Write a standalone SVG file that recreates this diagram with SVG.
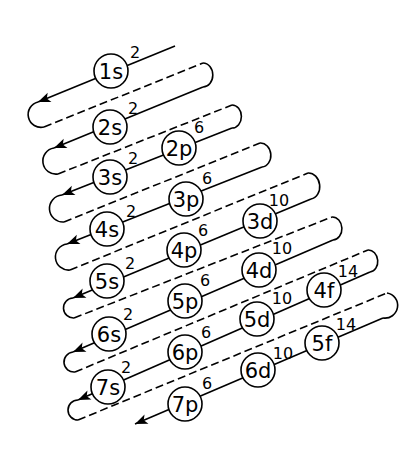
<svg xmlns="http://www.w3.org/2000/svg" width="400" height="461" viewBox="0 0 400 461">
<style>
.ln{fill:none;stroke:#000;stroke-width:1.6}
.sol{marker-end:url(#arr)}
.dash{stroke-dasharray:8,4}
.orb{fill:#fff;stroke:#000;stroke-width:1.6}
.lbl{font-family:"DejaVu Sans",sans-serif;font-size:21px;text-anchor:middle;fill:#000}
.sup{font-family:"DejaVu Sans",sans-serif;font-size:16px;text-anchor:middle;fill:#000}
</style>
<defs>
<marker id="arr" markerUnits="userSpaceOnUse" markerWidth="16" markerHeight="12" viewBox="-14 -6 16 12" refX="0" refY="0" orient="auto">
<path d="M0,0 L-12.5,-5 L-9.5,0 L-12.5,5 Z" fill="#000"/>
</marker>
</defs>
<rect width="400" height="461" fill="#fff"/>
<g id="connectors">
<path class="ln sol" d="M175,46 L38,102"/>
<path class="ln sol" d="M203,87 L54,148"/>
<path class="ln sol" d="M232,128 L62,195"/>
<path class="ln sol" d="M262,167 L67,244"/>
<path class="ln sol" d="M311,199 L73,298"/>
<path class="ln sol" d="M333,240 L73,352"/>
<path class="ln sol" d="M370,272 L78,400"/>
<path class="ln sol" d="M383,318 L135,424"/>
<path class="ln" d="M38,102 A1,1 0 0 0 44,127"/>
<path class="ln" d="M54,148 A1,1 0 0 0 58,174"/>
<path class="ln" d="M62,195 A1,1 0 0 0 64,222"/>
<path class="ln" d="M67,244 A1,1 0 0 0 70,270"/>
<path class="ln" d="M73,298 A1,1 0 0 0 74,318"/>
<path class="ln" d="M73,352 A1,1 0 0 0 75,372"/>
<path class="ln" d="M78,400 A1,1 0 0 0 78,420"/>
<path class="ln dash" d="M44,127 L203,63"/>
<path class="ln dash" d="M58,174 L232,105"/>
<path class="ln dash" d="M64,222 L260,143"/>
<path class="ln dash" d="M70,270 L308,173"/>
<path class="ln dash" d="M74,318 L332,217"/>
<path class="ln dash" d="M75,372 L368,250"/>
<path class="ln dash" d="M78,420 L387,293"/>
<path class="ln" d="M203,63 A9.8,12 0 0 1 203,87"/>
<path class="ln" d="M232,105 A9.4,11.5 0 0 1 232,128"/>
<path class="ln" d="M260,143 A9.8,12 -4.8 0 1 262,167"/>
<path class="ln" d="M308,173 A10.7,13.1 -6.6 0 1 311,199"/>
<path class="ln" d="M332,217 A9.4,11.5 -2.5 0 1 333,240"/>
<path class="ln" d="M368,250 A9,11.05 -5.2 0 1 370,272"/>
<path class="ln" d="M387,293 A1,1 0 0 1 383,318"/>
</g>
<g id="n1s"><circle class="orb" cx="111" cy="71" r="17"/><text class="lbl" x="111" y="78.5">1s</text><text class="sup" x="135" y="57.8">2</text></g>
<g id="n2s"><circle class="orb" cx="110" cy="127" r="17"/><text class="lbl" x="110" y="134.5">2s</text><text class="sup" x="133" y="113.8">2</text></g>
<g id="n2p"><circle class="orb" cx="179" cy="148" r="17"/><text class="lbl" x="179" y="155.5">2p</text><text class="sup" x="199" y="132.8">6</text></g>
<g id="n3s"><circle class="orb" cx="110" cy="177" r="17"/><text class="lbl" x="110" y="184.5">3s</text><text class="sup" x="133" y="163.8">2</text></g>
<g id="n3p"><circle class="orb" cx="186" cy="199" r="17"/><text class="lbl" x="186" y="206.5">3p</text><text class="sup" x="207" y="183.8">6</text></g>
<g id="n3d"><circle class="orb" cx="260" cy="221" r="17"/><text class="lbl" x="260" y="228.5">3d</text><text class="sup" x="279" y="205.8">10</text></g>
<g id="n4s"><circle class="orb" cx="107" cy="229" r="17"/><text class="lbl" x="107" y="236.5">4s</text><text class="sup" x="131" y="216.8">2</text></g>
<g id="n4p"><circle class="orb" cx="184" cy="250" r="17"/><text class="lbl" x="184" y="257.5">4p</text><text class="sup" x="203" y="235.8">6</text></g>
<g id="n4d"><circle class="orb" cx="259" cy="270" r="17"/><text class="lbl" x="259" y="277.5">4d</text><text class="sup" x="282" y="253.8">10</text></g>
<g id="n4f"><circle class="orb" cx="324" cy="290" r="17"/><text class="lbl" x="324" y="297.5">4f</text><text class="sup" x="348" y="276.8">14</text></g>
<g id="n5s"><circle class="orb" cx="107" cy="281" r="17"/><text class="lbl" x="107" y="288.5">5s</text><text class="sup" x="130" y="268.8">2</text></g>
<g id="n5p"><circle class="orb" cx="185" cy="301" r="17"/><text class="lbl" x="185" y="308.5">5p</text><text class="sup" x="205" y="285.8">6</text></g>
<g id="n5d"><circle class="orb" cx="257" cy="319" r="17"/><text class="lbl" x="257" y="326.5">5d</text><text class="sup" x="282" y="303.8">10</text></g>
<g id="n5f"><circle class="orb" cx="322" cy="343" r="17"/><text class="lbl" x="322" y="350.5">5f</text><text class="sup" x="346" y="329.8">14</text></g>
<g id="n6s"><circle class="orb" cx="109" cy="334" r="17"/><text class="lbl" x="109" y="341.5">6s</text><text class="sup" x="128" y="319.8">2</text></g>
<g id="n6p"><circle class="orb" cx="185" cy="352" r="17"/><text class="lbl" x="185" y="359.5">6p</text><text class="sup" x="206" y="337.8">6</text></g>
<g id="n6d"><circle class="orb" cx="258" cy="370" r="17"/><text class="lbl" x="258" y="377.5">6d</text><text class="sup" x="283" y="358.8">10</text></g>
<g id="n7s"><circle class="orb" cx="108" cy="387" r="17"/><text class="lbl" x="108" y="394.5">7s</text><text class="sup" x="126" y="372.8">2</text></g>
<g id="n7p"><circle class="orb" cx="185" cy="404" r="17"/><text class="lbl" x="185" y="411.5">7p</text><text class="sup" x="207" y="388.8">6</text></g>
</svg>
